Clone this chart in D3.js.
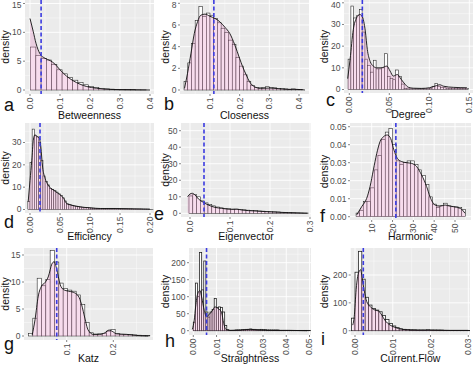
<!DOCTYPE html>
<html>
<head>
<meta charset="utf-8">
<script src="https://cdn.jsdelivr.net/npm/d3@7"></script>
<style>
    body{margin:0;background:#fff;}
    svg{display:block;}
    text{font-family:"Liberation Sans",Arial,sans-serif;}
</style>
</head>
<body>
<svg id="chart" width="474" height="366"></svg>
<script>
// ---- data ----
var measures = ['Betweenness','Closeness','Degree','Efficiency','Eigenvector','Harmonic','Katz','Straightness','Current.Flow'];
var letters = ['a','b','c','d','e','f','g','h','i'];
var meanValues = [0.037, 0.113, 0.0163, 0.0167, 0.035, 21.6, 0.0786, 0.0057, 0.0022];
var binStarts = [0.002, 0.0125, -0.0015, -0.0036, -0.0025, 2.5, 0.018, 0, -0.0009];
var binWidths = [0.0175, 0.0125, 0.0035, 0.0036, 0.0095, 1.75, 0.0093, 0.0009, 0.0009];
var xTickValues = [[0,0.1,0.2,0.3,0.4],[0.1,0.2,0.3,0.4],[0,0.05,0.1,0.15],[0,0.05,0.1,0.15,0.2],[0,0.1,0.2,0.3],[10,20,30,40,50],[0.1,0.2],[0,0.01,0.02,0.03,0.04,0.05],[0,0.01,0.02,0.03]];
var yTickValues = [[0,5,10,15],[0,2,4,6,8],[0,10,20,30,40],[0,10,20,30],[0,10,20,30,40,50],[0,0.01,0.02,0.03,0.04,0.05],[0,5,10,15],[0,50,100,150,200],[0,100,200]];
var xTickFormats = ['.1f','.1f','.2f','.2f','.1f','d','.1f','.2f','.2f'];
var yTickFormats = ['d','d','d','d','d','.2f','d','d','d'];

var betweennessHeights = [7.45,6.0,5.5,5.2,4.4,3.5,2.8,2.2,1.7,1.3,0.9,0.6,0.45,0.3,0.2,0.15,0.1,0.08,0.06,0.05,0.04,0.03];
var betweennessCurve = [[0,12.4],[0.011,10.1],[0.02,8.1],[0.033,6.3],[0.05,5.5],[0.067,5.1],[0.083,4.5],[0.1,3.5],[0.122,2.4],[0.144,1.6],[0.167,1.0],[0.189,0.6],[0.222,0.3],[0.267,0.1],[0.33,0.03],[0.4,0]];

var closenessHeights = [0.8,2.5,4.3,6.4,7.7,6.8,7.1,6.9,6.6,6.2,5.7,5.3,4.6,4.2,3.0,2.2,1.4,0.8,0.4,0.25,0.2,0.25,0.3,0.25,0.2,0.15,0.15,0.1,0.05,0.1,0.05,0.05];
var closenessCurve = [[0.014,0.15],[0.024,1.5],[0.036,3.4],[0.047,5.2],[0.058,6.3],[0.069,6.9],[0.083,7.0],[0.1,6.8],[0.117,6.6],[0.133,6.3],[0.15,5.8],[0.167,5.2],[0.183,4.2],[0.2,2.9],[0.21,2.15],[0.222,1.4],[0.233,0.77],[0.25,0.3],[0.27,0.15],[0.3,0.18],[0.33,0.12],[0.36,0.06],[0.39,0.06],[0.42,0]];

var degreeHeights = [14,38.5,33,34,37,26.5,14,11,8,13.5,9.5,9.5,10,16.5,6,5,4.5,9,6,2.5,0.5,0.3,0.3,0.3,0.3,0.3,0.3,0.3,0.3,0.5,1.5,2.8,1.5,1,0.8,0.6,0.5,0.5,0.5,0.5,0.5,0.5,0.5];
var degreeCurve = [[-0.002,5],[0.001,14],[0.005,27.7],[0.009,33],[0.013,34.6],[0.016,33.8],[0.02,27],[0.0225,18.5],[0.026,13],[0.03,10.8],[0.034,10],[0.04,10],[0.047,10.8],[0.051,8.5],[0.055,6.2],[0.06,6.9],[0.065,4.6],[0.07,2.3],[0.074,1.0],[0.08,0.6],[0.09,0.5],[0.1,0.8],[0.109,1.8],[0.113,2.2],[0.118,1.5],[0.13,1],[0.147,0.8]];

var efficiencyHeights = [3.5,21,36,33,32.5,30,22,15,12.5,11,9.5,9,8.5,7.8,7,6.2,5.2,3.8,2.5,2.2,1.9,1.6,1.5,1.3,1.1,1.0,0.9,0.8,0.7,0.65,0.6,0.55,0.5,0.5,0.45,0.45,0.4,0.4,0.4,0.4,0.35,0.35,0.3,0.3,0.3,0.3,0.25,0.25,0.25,0.2,0.2,0.2,0.2,0.15,0.15,0.15,0.1,0.1];
var efficiencyCurve = [[-0.003,3.5],[0,13],[0.003,22],[0.0055,31],[0.008,33.4],[0.012,32.7],[0.0155,32],[0.018,28],[0.021,19],[0.025,14],[0.03,11],[0.039,8.7],[0.047,7.2],[0.056,5],[0.061,2.7],[0.069,1.95],[0.083,1.2],[0.1,0.75],[0.117,0.45],[0.144,0.45],[0.172,0.3],[0.2,0.15]];

var eigenvectorHeights = [10.5,11.5,10,7.5,6.3,5.3,4.5,3.8,3.3,3.0,2.7,2.5,2.5,2.3,2.1,1.9,1.7,1.6,1.4,1.3,1.1,1.0,0.9,0.8,0.6,0.5,0.4,0.3,0.2,0.15,0.1];
var eigenvectorCurve = [[-0.006,10],[0,11.7],[0.006,12.1],[0.0125,11.1],[0.021,8.7],[0.033,6.7],[0.046,5],[0.0625,3.6],[0.079,3],[0.104,2.4],[0.117,2.5],[0.129,2],[0.1625,1.4],[0.204,0.8],[0.246,0.4],[0.296,0.05]];

var harmonicHeights = [0.002,0.0035,0.0085,0.0085,0.016,0.026,0.034,0.043,0.047,0.049,0.040,0.031,0.029,0.030,0.031,0.031,0.029,0.026,0.023,0.018,0.011,0.007,0.005,0.006,0.0075,0.006,0.0055,0.0055,0.005,0.004];
var harmonicCurve = [[2.8,0.001],[5.2,0.0056],[7.6,0.0102],[9.2,0.0167],[10.8,0.026],[12.4,0.035],[14,0.0417],[15.6,0.0444],[17.5,0.0454],[19.1,0.0435],[20.7,0.037],[22.3,0.0324],[24.4,0.0306],[26.8,0.03],[29.2,0.0296],[31.6,0.0278],[34,0.0231],[36.4,0.0167],[38,0.0111],[40.4,0.0065],[42.8,0.0059],[45.2,0.0065],[47.6,0.0059],[50.8,0.0052],[53.2,0.0041],[54.8,0.0019]];

var katzHeights = [0.5,3.3,10.7,9.3,10.5,15.8,13.7,9.8,8.8,8.5,8.3,7.6,5.8,2.5,0.6,0.35,0.4,0.5,0.9,1.2,0.5,0.3,0.3,0.25,0.2,0.15,0.1,0.1];
var katzCurve = [[0.026,0.2],[0.032,3],[0.039,7.4],[0.046,9.25],[0.0536,9.9],[0.061,11.1],[0.068,13.3],[0.073,13.75],[0.0786,12.4],[0.0857,9.6],[0.093,8.6],[0.1036,8.3],[0.114,8.1],[0.125,7.4],[0.132,5.8],[0.139,3.3],[0.146,1.1],[0.157,0.3],[0.171,0.3],[0.182,0.6],[0.191,1.1],[0.199,0.8],[0.207,0.4],[0.229,0.3],[0.25,0.1],[0.275,0]];

var straightnessHeights = [25,140,100,230,120,205,55,40,55,62,95,68,70,68,55,15,3,1,1,1,2,2,2,3,3,4,4,5,4,4,3,3,4,3,3,2,2,2,2,2,2,1,1,1,1,1,1,1,1,1,1,1,1,1,1,1];
var straightnessCurve = [[-0.0004,4],[0.0004,31],[0.001,70],[0.0019,109],[0.0029,118],[0.0036,99],[0.0047,60],[0.0057,41],[0.0069,48.5],[0.0081,58],[0.0093,70],[0.0107,65],[0.0121,55],[0.0131,21],[0.014,4],[0.0157,1],[0.0207,2],[0.0243,4],[0.028,2],[0.0336,1],[0.041,1],[0.049,0]];

var currentFlowHeights = [45,210,285,185,120,92,80,74,68,55,40,26,17,11,7,5,4,3,3,2,2,2,3,2,2,2,2,1,1,1,1,1,1,1,1,1];
var currentFlowCurve = [[-0.0006,20],[-0.0002,50],[0.0003,147],[0.0007,195],[0.0011,213],[0.0015,219],[0.0019,189],[0.0024,147],[0.0031,105],[0.004,87],[0.0053,74],[0.0062,71],[0.0071,56],[0.0079,38],[0.0093,20],[0.0106,12],[0.0124,5],[0.0154,2.4],[0.0199,2.4],[0.0252,1.2],[0.03,1.2]];

var allHeights = [betweennessHeights,closenessHeights,degreeHeights,efficiencyHeights,eigenvectorHeights,harmonicHeights,katzHeights,straightnessHeights,currentFlowHeights];
var allCurves = [betweennessCurve,closenessCurve,degreeCurve,efficiencyCurve,eigenvectorCurve,harmonicCurve,katzCurve,straightnessCurve,currentFlowCurve];

// ---- layout (pixels) ----
// box = [left, top, right, bottom]; xRef / yRef = [value, px, value, px]
var layout = [
    {box:[25,0,154,94],     xRef:[0,30,0.4,150],      yRef:[0,90,15,3.5],      yTitleX:8.5,   titleY:119, letter:[4,111]},
    {box:[180,0,309,94],    xRef:[0.1,210,0.4,299],   yRef:[0,90,8,3.3],       yTitleX:168.5, titleY:119, letter:[164,110]},
    {box:[344,0,473,93],    xRef:[0,349.3,0.15,469.3],yRef:[0,89.5,40,2.8],    yTitleX:327.5, titleY:118, letter:[326,106]},
    {box:[25,123,154,213],  xRef:[0,30,0.2,150],      yRef:[0,209.5,30,142.5], yTitleX:8.5,   titleY:240, letter:[4,228]},
    {box:[181,123,311,217], xRef:[0,190,0.3,310],     yRef:[0,213.3,50,130.7], yTitleX:168.5, titleY:240, letter:[154,220]},
    {box:[350,123,471,220], xRef:[10,371.7,50,455],   yRef:[0,216.7,0.05,126.7],yTitleX:327.5,titleY:240, letter:[320,222]},
    {box:[24,248,153,340],  xRef:[0.1,66.7,0.2,113.3],yRef:[0,336,15,255],     yTitleX:8.5,   titleY:362, letter:[4,350]},
    {box:[189,248,311,335], xRef:[0,193.3,0.05,309.5],yRef:[0,330.7,200,262.7],yTitleX:168.5, titleY:362, letter:[165,347]},
    {box:[350.7,248,470,335],xRef:[0,355,0.03,468.3], yRef:[0,330.7,200,275],  yTitleX:327.5, titleY:362, letter:[321,345]}
];

var svg = d3.select('#chart');

function drawPanel(i){
    var lay = layout[i];
    var L = lay.box[0], T = lay.box[1], R = lay.box[2], B = lay.box[3];
    var x = d3.scaleLinear().domain([lay.xRef[0],lay.xRef[2]]).range([lay.xRef[1],lay.xRef[3]]);
    var y = d3.scaleLinear().domain([lay.yRef[0],lay.yRef[2]]).range([lay.yRef[1],lay.yRef[3]]);
    var g = svg.append('g');

    g.append('clipPath').attr('id','clip'+i)
        .append('rect').attr('x',L).attr('y',T).attr('width',R-L).attr('height',B-T);
    g.append('rect').attr('x',L).attr('y',T).attr('width',R-L).attr('height',B-T).attr('fill','#EBEBEB');

    //网格线: minor then major
    var xt = xTickValues[i], yt = yTickValues[i];
    var xs = xt.length>1 ? xt[1]-xt[0] : 0.1, ys = yt[1]-yt[0];
    var xmin = x.invert(L), xmax = x.invert(R), ymin = y.invert(B), ymax = y.invert(T);
    var xMinor = d3.range(xt[0]-xs*10.5, xmax, xs).filter(function(v){return v>xmin;});
    var yMinor = d3.range(yt[0]-ys*0.5, ymax, ys).filter(function(v){return v>ymin;});
    var grid = g.append('g').attr('stroke','#fff');
    grid.selectAll('.xm').data(xMinor).enter().append('line')
        .attr('x1',function(d){return x(d);}).attr('x2',function(d){return x(d);})
        .attr('y1',T).attr('y2',B).attr('stroke-width',0.4);
    grid.selectAll('.ym').data(yMinor).enter().append('line')
        .attr('y1',function(d){return y(d);}).attr('y2',function(d){return y(d);})
        .attr('x1',L).attr('x2',R).attr('stroke-width',0.4);
    grid.selectAll('.xM').data(xt).enter().append('line')
        .attr('x1',function(d){return x(d);}).attr('x2',function(d){return x(d);})
        .attr('y1',T).attr('y2',B).attr('stroke-width',0.9);
    grid.selectAll('.yM').data(yt).enter().append('line')
        .attr('y1',function(d){return y(d);}).attr('y2',function(d){return y(d);})
        .attr('x1',L).attr('x2',R).attr('stroke-width',0.9);

    var plot = g.append('g').attr('clip-path','url(#clip'+i+')');

    //直方图
    var start = binStarts[i], w = binWidths[i];
    plot.append('g').selectAll('rect')
        .data(allHeights[i])
        .enter().append('rect')
        .attr('x',function(d,k){return x(start+k*w);})
        .attr('width',function(d,k){return x(start+(k+1)*w)-x(start+k*w);})
        .attr('y',function(d){return y(d);})
        .attr('height',function(d){return y(0)-y(d);})
        .attr('fill','#fff')
        .attr('stroke','#1a1a1a')
        .attr('stroke-width',i>=7 ? 0.75 : 0.55);

    //密度曲线
    var area = d3.area()
        .x(function(d){return x(d[0]);})
        .y0(y(0))
        .y1(function(d){return y(d[1]);})
        .curve(d3.curveMonotoneX);
    var line = d3.line()
        .x(function(d){return x(d[0]);})
        .y(function(d){return y(d[1]);})
        .curve(d3.curveMonotoneX);
    plot.append('path').datum(allCurves[i]).attr('d',area)
        .attr('fill','#e38bc2').attr('fill-opacity',0.3);
    plot.append('path').datum(allCurves[i]).attr('d',line)
        .attr('fill','none').attr('stroke','#111').attr('stroke-width',0.9);

    //均值
    plot.append('line')
        .attr('x1',x(meanValues[i])).attr('x2',x(meanValues[i]))
        .attr('y1',T).attr('y2',B)
        .attr('stroke','#3b3be0').attr('stroke-width',1.6)
        .attr('stroke-dasharray','4,2.5');

    //坐标轴
    var xf = d3.format(xTickFormats[i]), yf = d3.format(yTickFormats[i]);
    g.selectAll('.xtk').data(xt).enter().append('line')
        .attr('x1',function(d){return x(d);}).attr('x2',function(d){return x(d);})
        .attr('y1',B).attr('y2',B+2).attr('stroke','#333').attr('stroke-width',0.6);
    g.selectAll('.ytk').data(yt).enter().append('line')
        .attr('y1',function(d){return y(d);}).attr('y2',function(d){return y(d);})
        .attr('x1',L-2).attr('x2',L).attr('stroke','#333').attr('stroke-width',0.6);
    g.selectAll('.xl').data(xt).enter().append('text')
        .attr('transform',function(d){return 'translate('+x(d)+','+(B+3.5)+') rotate(-90)';})
        .attr('text-anchor','end').attr('dy','0.35em')
        .attr('font-size',8.5).attr('fill','#4d4d4d')
        .text(function(d){return xf(d);});
    // top labels sit right at the edge of the picture, keep them inside
    g.selectAll('.yl').data(yt).enter().append('text')
        .attr('x',L-3.5).attr('y',function(d){return Math.max(y(d),5.5);})
        .attr('text-anchor','end').attr('dy','0.35em')
        .attr('font-size',8.5).attr('fill','#4d4d4d')
        .text(function(d){return yf(d);});

    g.append('text')
        .attr('x',(L+R)/2).attr('y',lay.titleY)
        .attr('text-anchor','middle').attr('font-size',10.5).attr('fill','#111')
        .text(measures[i]);
    g.append('text')
        .attr('transform','translate('+lay.yTitleX+','+((T+B)/2)+') rotate(-90)')
        .attr('text-anchor','middle').attr('font-size',10.5).attr('fill','#111')
        .text('density');
    g.append('text')
        .attr('x',lay.letter[0]).attr('y',lay.letter[1])
        .attr('font-size',18).attr('fill','#111')
        .text(letters[i]);
}

for(var i = 0;i<measures.length;i++){
    drawPanel(i);
}
</script>
</body>
</html>
